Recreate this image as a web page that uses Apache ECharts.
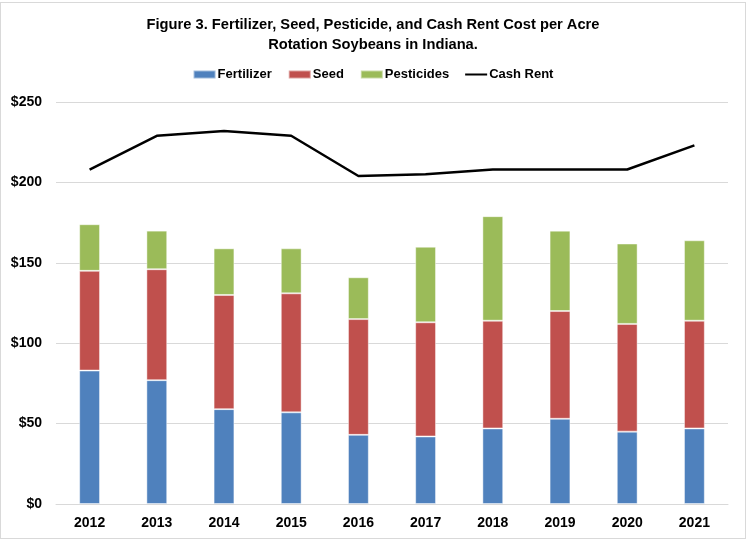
<!DOCTYPE html>
<html>
<head>
<meta charset="utf-8">
<script src="https://cdn.jsdelivr.net/npm/echarts@6/dist/echarts.min.js"></script>
<style>
  html, body { margin: 0; padding: 0; background: #fff; }
  #chart { position: absolute; left: 0; top: 2px; width: 744px; height: 535px; border: 1px solid #d9d9d9; }
</style>
</head>
<body>
<div id="chart"></div>
<script>
// data ($ per acre)
var years = ['2012', '2013', '2014', '2015', '2016', '2017', '2018', '2019', '2020', '2021'];
var fertilizer = [83, 77, 59, 57, 43, 42, 47, 53, 45, 47];
var seed = [62, 69, 71, 74, 72, 71, 67, 67, 67, 67];
var pesticides = [29, 24, 29, 28, 26, 47, 65, 50, 50, 50];
var cashRent = [208, 229, 232, 229, 204, 205, 208, 208, 208, 223];
var yTicks = [0, 50, 100, 150, 200, 250];

var font = '"Liberation Sans", Arial, sans-serif';

var myChart = echarts.init(document.getElementById('chart'));

function barSeries(name, data, color) {
    return {
        name: name,
        type: 'bar',
        stack: 'cost',
        data: data,
        barWidth: '31%',
        itemStyle: {
            color: color,
            borderColor: 'rgba(255,255,255,0.45)',
            borderWidth: 1
        }
    };
}

var option = {
    animation: false,
    textStyle: { fontFamily: font },
    title: {
        text: 'Figure 3. Fertilizer, Seed, Pesticide, and Cash Rent Cost per Acre\nRotation Soybeans in Indiana.',
        left: 'center',
        top: 7,
        textStyle: {
            fontFamily: font,
            fontSize: 14.7,
            fontWeight: 'bold',
            color: '#000',
            lineHeight: 20
        }
    },
    legend: {
        top: 60,
        left: 'center',
        itemGap: 16,
        itemWidth: 22,
        itemHeight: 8,
        textStyle: { fontFamily: font, fontSize: 13, fontWeight: 'bold', color: '#000', padding: [0, 0, 0, -3] },
        data: [
            { name: 'Fertilizer', icon: 'rect' },
            { name: 'Seed', icon: 'rect' },
            { name: 'Pesticides', icon: 'rect' },
            { name: 'Cash Rent', icon: 'path://M0,4 L22,4 L22,6 L0,6 Z', itemStyle: { color: '#000' } }
        ]
    },
    grid: {
        left: 55,
        right: 17,
        top: 99,
        bottom: 34
    },
    xAxis: {
        type: 'category',
        data: years,
        axisLine: { show: true, lineStyle: { color: '#d9d9d9', width: 1 } },
        axisTick: { show: false },
        axisLabel: {
            fontFamily: font,
            fontSize: 14,
            fontWeight: 'bold',
            color: '#000',
            margin: 12
        }
    },
    yAxis: {
        type: 'value',
        min: yTicks[0],
        max: yTicks[yTicks.length - 1],
        interval: 50,
        axisLine: { show: false },
        axisTick: { show: false },
        axisLabel: {
            fontFamily: font,
            fontSize: 14,
            fontWeight: 'bold',
            color: '#000',
            margin: 14,
            formatter: function (v) { return '$' + v; }
        },
        splitLine: { lineStyle: { color: '#d9d9d9', width: 1 } }
    },
    series: [
        barSeries('Fertilizer', fertilizer, '#4F81BD'),
        barSeries('Seed', seed, '#C0504D'),
        barSeries('Pesticides', pesticides, '#9BBB59'),
        {
            name: 'Cash Rent',
            type: 'line',
            data: cashRent,
            symbol: 'none',
            lineStyle: { color: '#000', width: 2.5 },
            itemStyle: { color: '#000' },
            z: 5
        }
    ]
};

myChart.setOption(option);
window.addEventListener('resize', function () {
    myChart.resize();
});
</script>
</body>
</html>
